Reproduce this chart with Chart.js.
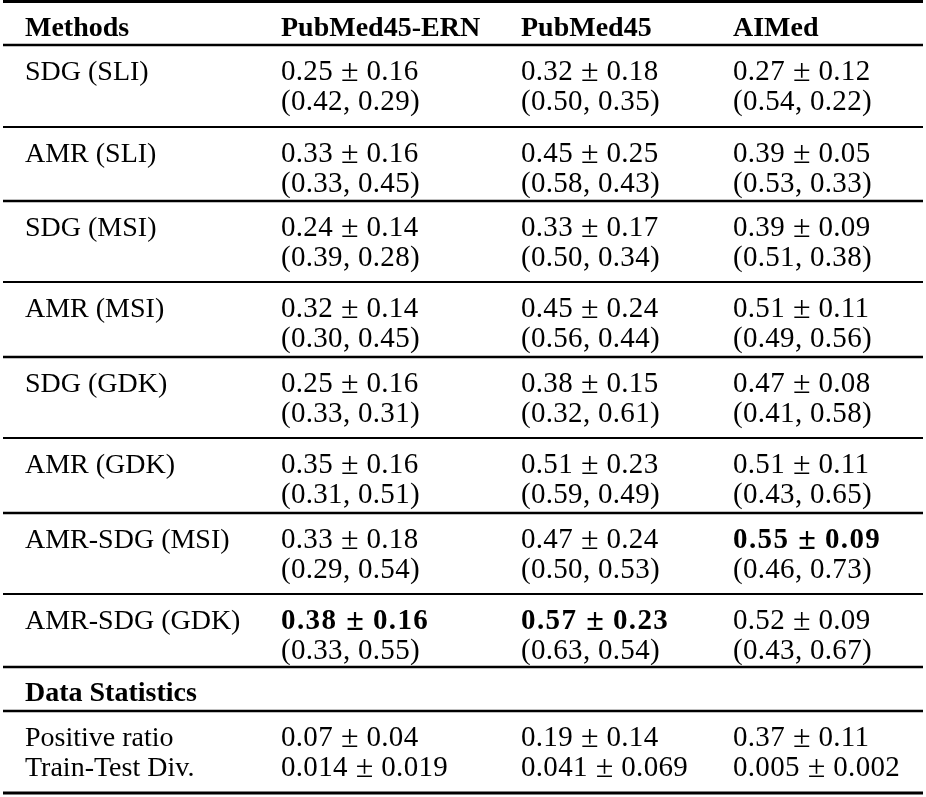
<!DOCTYPE html>
<html>
<head>
<meta charset="utf-8">
<script src="https://cdn.jsdelivr.net/npm/chart.js@4/dist/chart.umd.min.js"></script>
<style>
  html, body { margin: 0; padding: 0; background: #fff; }
  #wrap { width: 926px; height: 797px; position: relative; }
</style>
</head>
<body>
<div id="wrap"><canvas id="tableChart"></canvas></div>
<script>
// ===============================
// Table data
// ===============================
const methods = ["SDG (SLI)", "AMR (SLI)", "SDG (MSI)", "AMR (MSI)",
                 "SDG (GDK)", "AMR (GDK)", "AMR-SDG (MSI)", "AMR-SDG (GDK)"];
const columns = ["PubMed45-ERN", "PubMed45", "AIMed"];

const meanERN  = [0.25, 0.33, 0.24, 0.32, 0.25, 0.35, 0.33, 0.38];
const stdERN   = [0.16, 0.16, 0.14, 0.14, 0.16, 0.16, 0.18, 0.16];
const pairAERN = [0.42, 0.33, 0.39, 0.30, 0.33, 0.31, 0.29, 0.33];
const pairBERN = [0.29, 0.45, 0.28, 0.45, 0.31, 0.51, 0.54, 0.55];

const meanPM   = [0.32, 0.45, 0.33, 0.45, 0.38, 0.51, 0.47, 0.57];
const stdPM    = [0.18, 0.25, 0.17, 0.24, 0.15, 0.23, 0.24, 0.23];
const pairAPM  = [0.50, 0.58, 0.50, 0.56, 0.32, 0.59, 0.50, 0.63];
const pairBPM  = [0.35, 0.43, 0.34, 0.44, 0.61, 0.49, 0.53, 0.54];

const meanAI   = [0.27, 0.39, 0.39, 0.51, 0.47, 0.51, 0.55, 0.52];
const stdAI    = [0.12, 0.05, 0.09, 0.11, 0.08, 0.11, 0.09, 0.09];
const pairAAI  = [0.54, 0.53, 0.51, 0.49, 0.41, 0.43, 0.46, 0.43];
const pairBAI  = [0.22, 0.33, 0.38, 0.56, 0.58, 0.65, 0.73, 0.67];

const statsTitle = "Data Statistics";
const statLabels = ["Positive ratio", "Train-Test Div."];
const statDigits = [2, 3];
const posRatioMean = [0.07, 0.19, 0.37];
const posRatioStd  = [0.04, 0.14, 0.11];
const divMean      = [0.014, 0.041, 0.005];
const divStd       = [0.019, 0.069, 0.002];

// ===============================
// Layout (pixel units of the linear scales)
// ===============================
const W = 926, H = 797;
const colX = [25, 281, 521, 733];
const ruleLeft = 3, ruleRight = 923;
const topRule = 1.5, headRule = 45;
const rowTops = [45, 127, 201, 282, 357, 438, 513, 594];
const statsRule = 667, statsHeadRule = 711, bottomRule = 793;
const FONT = '"Liberation Serif", "Times New Roman", serif';
const FS = 28;      // text labels
const NS = 29;      // numbers
const PMS = 32;     // the ± sign

const colMeans = [meanERN, meanPM, meanAI];
const colStds  = [stdERN, stdPM, stdAI];
const colPairA = [pairAERN, pairAPM, pairAAI];
const colPairB = [pairBERN, pairBPM, pairBAI];

// best value per column is bold
const bestIdx = colMeans.map(arr => arr.indexOf(Math.max(...arr)));

function cellPoints(j) {
    return methods.map((m, i) => ({ x: colX[j + 1], y: rowTops[i] + 26 }));
}

const datasets = [
    { label: "methods", data: methods.map((m, i) => ({ x: colX[0], y: rowTops[i] + 26 })) }
];
columns.forEach((c, j) => datasets.push({ label: c, data: cellPoints(j) }));
datasets.forEach(d => { d.pointRadius = 0; d.showLine = false; });

// ===============================
// Drawing helpers
// ===============================
function drawPM(ctx, x, y, a, b, digits, bold) {
    const numFont = (bold ? "bold " : "") + NS + "px " + FONT;
    const spacing = bold ? "1.4px" : "0.3px";
    const gap = bold ? 9 : 8;
    const s1 = a.toFixed(digits), s2 = b.toFixed(digits);
    ctx.font = numFont;
    ctx.letterSpacing = spacing;
    ctx.fillText(s1, x, y);
    let cx = x + ctx.measureText(s1).width + gap;
    ctx.letterSpacing = "0px";
    ctx.font = (bold ? "bold " : "") + PMS + "px " + FONT;
    ctx.fillText("±", cx, y + 1);
    cx += ctx.measureText("±").width + gap;
    ctx.font = numFont;
    ctx.letterSpacing = spacing;
    ctx.fillText(s2, cx, y);
    ctx.letterSpacing = "0px";
}

function drawPair(ctx, x, y, a, b) {
    ctx.font = NS + "px " + FONT;
    ctx.letterSpacing = "0.3px";
    ctx.fillText("(" + a.toFixed(2) + ", " + b.toFixed(2) + ")", x, y);
    ctx.letterSpacing = "0px";
}

const tablePlugin = {
    id: "tablePlugin",
    afterDatasetsDraw(chart) {
        const ctx = chart.ctx;
        const xs = chart.scales.x, ys = chart.scales.y;
        const px = v => xs.getPixelForValue(v);
        const py = v => ys.getPixelForValue(v);
        const base = 9; // baseline offset from line centre

        ctx.save();
        ctx.fillStyle = "#000";
        ctx.strokeStyle = "#000";
        ctx.textAlign = "left";
        ctx.textBaseline = "alphabetic";

        // rules
        const rule = (y, w) => {
            ctx.lineWidth = w;
            ctx.beginPath();
            ctx.moveTo(px(ruleLeft), py(y));
            ctx.lineTo(px(ruleRight), py(y));
            ctx.stroke();
        };
        rule(topRule, 3);
        rule(headRule, 2.4);
        rowTops.slice(1).forEach((t, i) => rule(t, i % 2 === 0 ? 1.9 : 2.4));
        rule(statsRule, 2.6);
        rule(statsHeadRule, 2.6);
        rule(bottomRule, 3);

        // header
        ctx.font = "bold " + FS + "px " + FONT;
        ctx.fillText("Methods", px(colX[0]), py(27) + base);
        columns.forEach((c, j) => ctx.fillText(c, px(colX[j + 1]), py(27) + base));

        // method rows + cells, positioned by the dataset points
        chart.data.datasets.forEach((ds, di) => {
            const meta = chart.getDatasetMeta(di);
            meta.data.forEach((pt, i) => {
                const y1 = pt.y + base;
                const y2 = pt.y + 29.5 + base;
                if (di === 0) {
                    ctx.font = FS + "px " + FONT;
                    ctx.fillText(methods[i], pt.x, y1);
                } else {
                    const j = di - 1;
                    drawPM(ctx, pt.x, y1, colMeans[j][i], colStds[j][i], 2, bestIdx[j] === i);
                    drawPair(ctx, pt.x, y2, colPairA[j][i], colPairB[j][i]);
                }
            });
        });

        // data statistics block
        ctx.font = "bold " + FS + "px " + FONT;
        ctx.fillText(statsTitle, px(colX[0]), py(statsRule + 25) + base);
        const statMeans = [posRatioMean, divMean];
        const statStds = [posRatioStd, divStd];
        statLabels.forEach((lab, k) => {
            const y = py(statsHeadRule + 26 + k * 30) + base;
            ctx.font = FS + "px " + FONT;
            ctx.fillText(lab, px(colX[0]), y);
            columns.forEach((c, j) => {
                drawPM(ctx, px(colX[j + 1]), y, statMeans[k][j], statStds[k][j], statDigits[k], false);
            });
        });
        ctx.restore();
    }
};

new Chart(document.getElementById("tableChart"), {
    type: "scatter",
    data: { datasets: datasets },
    options: {
        responsive: true,
        maintainAspectRatio: false,
        animation: false,
        layout: { padding: 0 },
        plugins: { legend: { display: false }, tooltip: { enabled: false } },
        scales: {
            x: { type: "linear", min: 0, max: W, display: false },
            y: { type: "linear", min: 0, max: H, reverse: true, display: false }
        }
    },
    plugins: [tablePlugin]
});
</script>
</body>
</html>
